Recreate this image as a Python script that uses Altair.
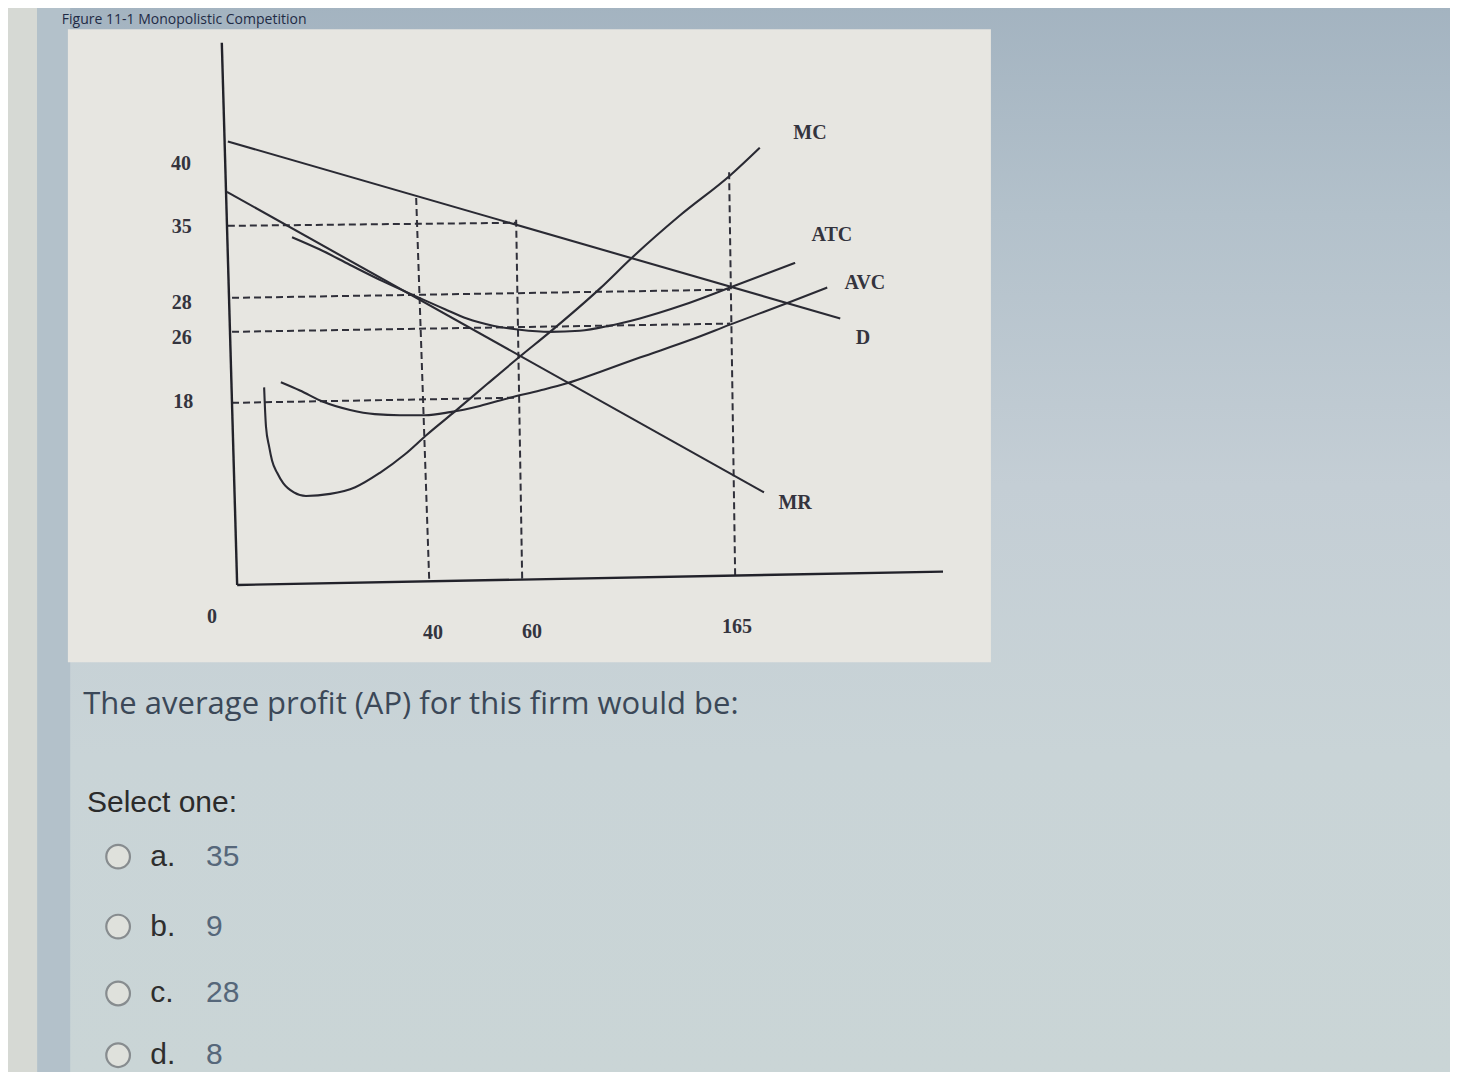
import altair as alt
import pandas as pd

# ---------------- diagram data (schematic units: q = quantity position, p = price position)
d_q = [-2.4, 129.3]
d_p = [43.2, 26.0]
mr_q = [-2.6, 112.9]
mr_p = [38.3, 9.1]
atc_q = [11.4, 17.4, 23.9, 31.0, 38.3, 44.3, 49.0, 54.6, 60.4, 66.9, 73.3, 79.8, 86.2, 95.5, 105.6, 119.6]
atc_p = [33.9, 32.7, 31.2, 29.6, 28.1, 26.9, 26.0, 25.3, 24.9, 24.7, 24.8, 25.3, 26.0, 27.3, 29.0, 31.4]
avc_q = [9.0, 13.1, 18.1, 23.9, 29.2, 34.6, 40.0, 45.4, 51.8, 58.3, 64.7, 70.5, 77.6, 86.2, 97.0, 105.6, 118.5, 126.5]
avc_p = [19.8, 19.0, 17.9, 17.1, 16.7, 16.6, 16.6, 16.9, 17.5, 18.3, 19.0, 19.7, 20.8, 22.2, 23.9, 25.4, 27.6, 29.0]
mc_q = [5.4, 5.6, 5.8, 6.5, 7.1, 8.2, 9.5, 11.8, 14.4, 19.6, 25.0, 30.3, 35.7, 40.4, 46.0, 53.3, 60.4, 66.9, 77.6, 84.5, 94.8, 105.6, 112.0]
mc_p = [19.3, 17.1, 15.5, 13.5, 12.2, 11.0, 10.0, 9.1, 8.75, 8.95, 9.6, 11.0, 12.8, 14.7, 16.8, 19.6, 22.3, 24.7, 28.9, 31.9, 36.0, 39.9, 42.6]

# dashed guide segments: (name, q_start, p_start, q_end, p_end)
guides = [
    ("h35", -2.4, 35.0, 59.8, 35.3),
    ("h28", -1.5, 28.0, 105.6, 28.8),
    ("h26", -1.5, 24.7, 105.6, 25.5),
    ("h18", -1.5, 17.8, 59.8, 18.3),
    ("v40", 38.1, 37.7, 40.9, 0.6),
    ("v60", 59.6, 35.6, 60.9, 0.6),
    ("v165", 105.4, 40.2, 106.7, 1.0),
]
axes_lines = [
    ("yaxis", -3.7, 52.8, -0.4, 0.1),
    ("xaxis", -0.4, 0.1, 151.4, 1.4),
]

# tick labels
price_labels = ["40", "35", "28", "26", "18"]
price_label_q = [-12.5, -12.3, -12.3, -12.3, -12.0]
price_label_p = [41.0, 34.9, 27.5, 24.1, 17.9]
qty_labels = ["0", "40", "60", "165"]
qty_label_q = [-5.8, 41.7, 63.0, 107.1]
qty_label_p = [-3.0, -4.6, -4.5, -4.0]
curve_labels = ["MC", "ATC", "AVC", "D", "MR"]
curve_label_q = [122.8, 127.5, 134.6, 134.2, 119.6]
curve_label_p = [44.0, 34.1, 29.45, 24.1, 8.1]

# question text
header = "Figure 11-1 Monopolistic Competition"
question = "The average profit (AP) for this firm would be:"
select_txt = "Select one:"
opt_letters = ["a.", "b.", "c.", "d."]
opt_values = ["35", "9", "28", "8"]
opt_p = [-26.3, -33.1, -39.6, -45.6]

XD = [-49.68, 260.43]
YD = [-47.23, 56.17]
xs = alt.Scale(domain=XD, nice=False, zero=False)
ys = alt.Scale(domain=YD, nice=False, zero=False)

def X(f):
    return alt.X(f, type="quantitative", scale=xs, axis=None)

def Y(f):
    return alt.Y(f, type="quantitative", scale=ys, axis=None)

def box(q1, q2, p1, p2):
    return pd.DataFrame({"q1": [q1], "q2": [q2], "p1": [p1], "p2": [p2]})

# -------- backdrop (photo of a screen)
grad = alt.LinearGradient(
    gradient="linear", x1=0, y1=0, x2=0, y2=1,
    stops=[alt.GradientStop(color="#a3b3c0", offset=0),
           alt.GradientStop(color="#b3c1cb", offset=0.2),
           alt.GradientStop(color="#c4ced5", offset=0.45),
           alt.GradientStop(color="#c9d4d7", offset=0.7),
           alt.GradientStop(color="#cad5d6", offset=1)],
)
back = alt.Chart(box(-43.4, 262.2, 57.0, -48.0)).mark_rect(fill=grad).encode(
    x=X("q1"), x2="q2", y=Y("p1"), y2="p2")
left_light = alt.Chart(box(-51.4, -43.4, 57.0, -48.0)).mark_rect(color="#d6d9d4").encode(
    x=X("q1"), x2="q2", y=Y("p1"), y2="p2")
left_blue = alt.Chart(box(-43.4, -36.3, 57.0, -48.0)).mark_rect(color="#b3c1ca").encode(
    x=X("q1"), x2="q2", y=Y("p1"), y2="p2")
panel = alt.Chart(box(-36.8, 161.7, 54.1, -7.4)).mark_rect(color="#e7e6e1").encode(
    x=X("q1"), x2="q2", y=Y("p1"), y2="p2")

rows = []
for name, qs, ps in [("D", d_q, d_p), ("MR", mr_q, mr_p), ("ATC", atc_q, atc_p),
                     ("AVC", avc_q, avc_p), ("MC", mc_q, mc_p)]:
    for i, (a, b) in enumerate(zip(qs, ps)):
        rows.append({"curve": name, "i": i, "q": a, "p": b})
curve_df = pd.DataFrame(rows)
curves = alt.Chart(curve_df).mark_line(
    interpolate="monotone", color="#2a2a33", strokeWidth=2.1
).encode(x=X("q"), y=Y("p"), detail="curve:N", order="i:Q")

def seg_df(segs):
    r = []
    for name, q1, p1, q2, p2 in segs:
        r.append({"seg": name, "i": 0, "q": q1, "p": p1})
        r.append({"seg": name, "i": 1, "q": q2, "p": p2})
    return pd.DataFrame(r)

dash = alt.Chart(seg_df(guides)).mark_line(
    color="#30303a", strokeWidth=2, strokeDash=[7, 4]
).encode(x=X("q"), y=Y("p"), detail="seg:N", order="i:Q")

axes = alt.Chart(seg_df(axes_lines)).mark_line(
    color="#22222a", strokeWidth=2.4
).encode(x=X("q"), y=Y("p"), detail="seg:N", order="i:Q")

lab_font = dict(font="Liberation Serif", fontSize=20, fontWeight="bold", color="#34343e")
pl = alt.Chart(pd.DataFrame({"t": price_labels, "q": price_label_q, "p": price_label_p})).mark_text(
    **lab_font).encode(x=X("q"), y=Y("p"), text="t:N")
ql = alt.Chart(pd.DataFrame({"t": qty_labels, "q": qty_label_q, "p": qty_label_p})).mark_text(
    **lab_font).encode(x=X("q"), y=Y("p"), text="t:N")
cl = alt.Chart(pd.DataFrame({"t": curve_labels, "q": curve_label_q, "p": curve_label_p})).mark_text(
    **lab_font).encode(x=X("q"), y=Y("p"), text="t:N")

hdr = alt.Chart(pd.DataFrame({"t": [header], "q": [-38.1], "p": [55.0]})).mark_text(
    font="Open Sans", fontSize=14, color="#1f2b45", align="left", baseline="middle"
).encode(x=X("q"), y=Y("p"), text="t:N")

qtxt = alt.Chart(pd.DataFrame({"t": [question], "q": [-33.5], "p": [-11.6]})).mark_text(
    font="Open Sans", fontSize=31, color="#3b4858", align="left", baseline="middle"
).encode(x=X("q"), y=Y("p"), text="t:N")

sel = alt.Chart(pd.DataFrame({"t": [select_txt], "q": [-32.7], "p": [-21.1]})).mark_text(
    font="Liberation Sans", fontSize=30, color="#2b2b2b", align="left", baseline="middle"
).encode(x=X("q"), y=Y("p"), text="t:N")

opt_df = pd.DataFrame({
    "letter": opt_letters, "val": opt_values, "p": opt_p,
    "qc": [-26.0] * 4, "ql": [-19.1] * 4, "qv": [-7.1] * 4,
})
radios = alt.Chart(opt_df).mark_point(
    shape="circle", filled=True, fill="#dfe1dc", stroke="#878c8f", strokeWidth=2.2,
    size=560, opacity=1
).encode(x=X("qc"), y=Y("p"))
letters = alt.Chart(opt_df).mark_text(
    font="Liberation Sans", fontSize=30, color="#2e2e2e", align="left", baseline="middle"
).encode(x=X("ql"), y=Y("p"), text="letter:N")
vals = alt.Chart(opt_df).mark_text(
    font="Liberation Sans", fontSize=30, color="#56677a", align="left", baseline="middle"
).encode(x=X("qv"), y=Y("p"), text="val:N")

chart = alt.layer(
    back, left_light, left_blue, panel, hdr, dash, axes, curves, pl, ql, cl,
    qtxt, sel, radios, letters, vals
).properties(
    width=1442, height=1064, background="#c8d2d6", padding=0, autosize="none"
).configure_view(stroke=None)

chart.save("out.html", embed_options={"renderer": "svg", "actions": False})
